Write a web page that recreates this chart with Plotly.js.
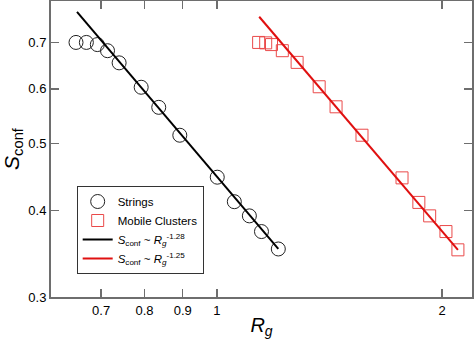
<!DOCTYPE html>
<html>
<head>
<meta charset="utf-8">
<script src="https://cdn.plot.ly/plotly-3.0.1.min.js"></script>
<style>html,body{margin:0;padding:0;background:#fff}#chart{width:474px;height:339px}</style>
</head>
<body>
<div id="chart"></div>
<script>
const stringsRg = [0.648,0.669,0.692,0.714,0.740,0.792,0.836,0.892,1.001,1.055,1.105,1.147,1.208];
const stringsS  = [0.700,0.700,0.695,0.681,0.654,0.603,0.564,0.514,0.447,0.412,0.393,0.373,0.352];
const clustersRg = [1.137,1.162,1.183,1.223,1.280,1.370,1.443,1.563,1.768,1.862,1.925,2.024,2.100];
const clustersS  = [0.700,0.699,0.695,0.681,0.655,0.604,0.565,0.514,0.446,0.411,0.393,0.373,0.351];
const fitStringsRg = [0.650,1.208];
const fitStringsS  = [0.775,0.352];
const fitClustersRg = [1.139,2.100];
const fitClustersS  = [0.7625,0.351];
const xTicks = [0.7,0.8,0.9,1,2];
const xTickText = ['0.7','0.8','0.9','1','2'];
const yTicks = [0.3,0.4,0.5,0.6,0.7];
const yTickText = ['0.3','0.4','0.5','0.6','0.7'];

const FONT = 'Liberation Sans, Arial, Helvetica, sans-serif';
const AX = '#6e6e6e';

const traces = [
  {x: stringsRg, y: stringsS, type:'scatter', mode:'markers', name:'Strings',
   marker:{symbol:'circle-open', size:14, color:'#222', line:{width:1, color:'#222'}}},
  {x: clustersRg, y: clustersS, type:'scatter', mode:'markers', name:'Mobile Clusters',
   marker:{symbol:'square-open', size:12, color:'#ea4a4a', line:{width:1, color:'#ea4a4a'}}},
  {x: fitStringsRg, y: fitStringsS, type:'scatter', mode:'lines',
   name:'<i>S</i><sub>conf</sub> ~ <i>R</i><sub><i>g</i></sub><sup>-1.28</sup>',
   line:{color:'#000', width:2}},
  {x: fitClustersRg, y: fitClustersS, type:'scatter', mode:'lines',
   name:'<i>S</i><sub>conf</sub> ~ <i>R</i><sub><i>g</i></sub><sup>-1.25</sup>',
   line:{color:'#e01010', width:2}}
];

const layout = {
  width:474, height:339,
  margin:{l:51, r:2, t:1, b:42},
  paper_bgcolor:'#fff', plot_bgcolor:'#fff',
  font:{family:FONT, color:'#000', size:13},
  showlegend:true,
  legend:{x:0.061, y:0.375, xanchor:'left', yanchor:'top', bgcolor:'#fff',
          bordercolor:'#333', borderwidth:1, font:{family:FONT, size:11.5, color:'#000'},
          tracegroupgap:0},
  xaxis:{type:'log', range:[Math.log10(0.6), Math.log10(2.193)],
         tickvals:xTicks, ticktext:xTickText, ticks:'inside', ticklen:8, tickwidth:1.5,
         tickcolor:AX, showline:true, linecolor:AX, linewidth:2, mirror:'ticks',
         showgrid:false, zeroline:false, tickfont:{size:13},
         title:{text:'<i>R</i><sub><i>g</i></sub>', font:{size:20}, standoff:12}},
  yaxis:{type:'log', range:[Math.log10(0.3), Math.log10(0.8035)],
         tickvals:yTicks, ticktext:yTickText, ticks:'inside', ticklen:8, tickwidth:1.5,
         tickcolor:AX, showline:true, linecolor:AX, linewidth:2, mirror:'ticks',
         showgrid:false, zeroline:false, tickfont:{size:13},
         title:{text:'<i>S</i><sub>conf</sub>', font:{size:21}, standoff:4}}
};

Plotly.newPlot('chart', traces, layout, {staticPlot:true, displayModeBar:false});
</script>
</body>
</html>
